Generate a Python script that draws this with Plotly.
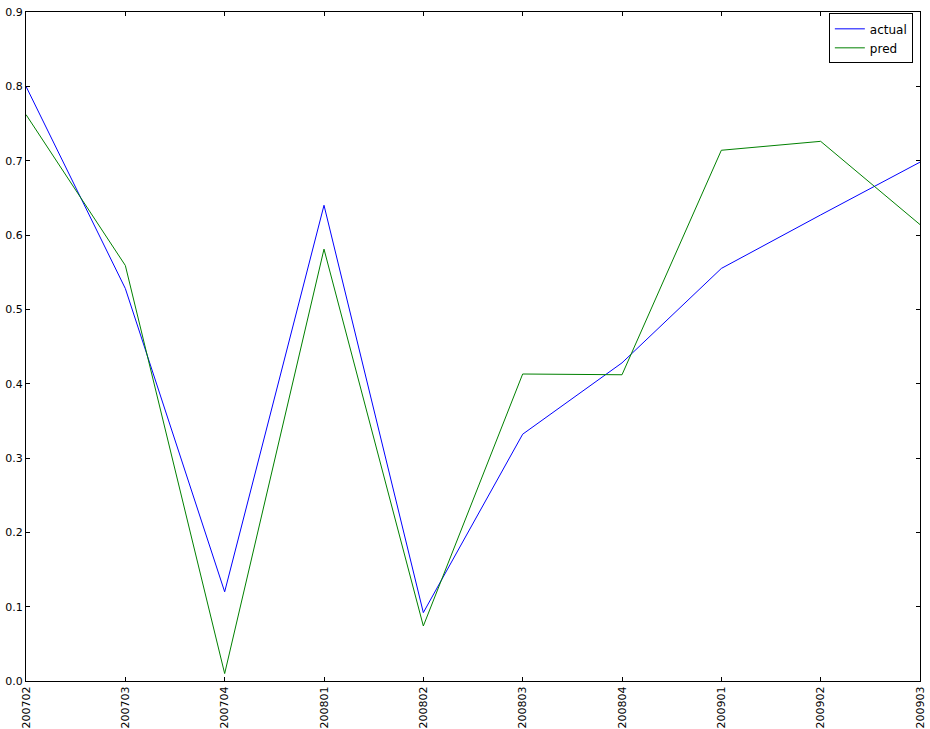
import plotly.graph_objs as go

periods = ['200702', '200703', '200704', '200801', '200802',
           '200803', '200804', '200901', '200902', '200903']
actual = [0.800, 0.528, 0.120, 0.640, 0.092, 0.332, 0.428, 0.555, 0.627, 0.698]
pred = [0.762, 0.559, 0.010, 0.581, 0.074, 0.413, 0.412, 0.714, 0.726, 0.614]
ytick_vals = [0.0, 0.1, 0.2, 0.3, 0.4, 0.5, 0.6, 0.7, 0.8, 0.9]

fig = go.Figure()
fig.add_trace(go.Scatter(x=periods, y=actual, mode='lines', name='actual',
                         line=dict(color='#0000ff', width=1)))
fig.add_trace(go.Scatter(x=periods, y=pred, mode='lines', name='pred',
                         line=dict(color='#008000', width=1)))

fig.update_layout(
    width=930, height=729,
    margin=dict(l=26, r=10, t=12, b=48),
    paper_bgcolor='white', plot_bgcolor='white',
    font=dict(family='DejaVu Sans', size=11, color='black'),
    showlegend=True,
    legend=dict(x=0.992, y=0.998, xanchor='right', yanchor='top',
                bordercolor='black', borderwidth=1, bgcolor='white',
                font=dict(size=12), tracegroupgap=0),
    xaxis=dict(type='category', range=[0, len(periods) - 1], automargin=False,
               showgrid=False, zeroline=False,
               showline=True, linecolor='black', linewidth=1, mirror='ticks',
               ticks='inside', ticklen=4, tickcolor='black', tickangle=-90),
    yaxis=dict(range=[0, 0.9], tickvals=ytick_vals, tickformat='.1f', automargin=False,
               showgrid=False, zeroline=False,
               showline=True, linecolor='black', linewidth=1, mirror='ticks',
               ticks='inside', ticklen=4, tickcolor='black'),
)

# drop the page's default body margin so the figure fills the window
fig.write_html("out.html", config={'displayModeBar': False},
               post_script="document.body.style.margin='0';"
                           "document.body.style.overflow='hidden';")
